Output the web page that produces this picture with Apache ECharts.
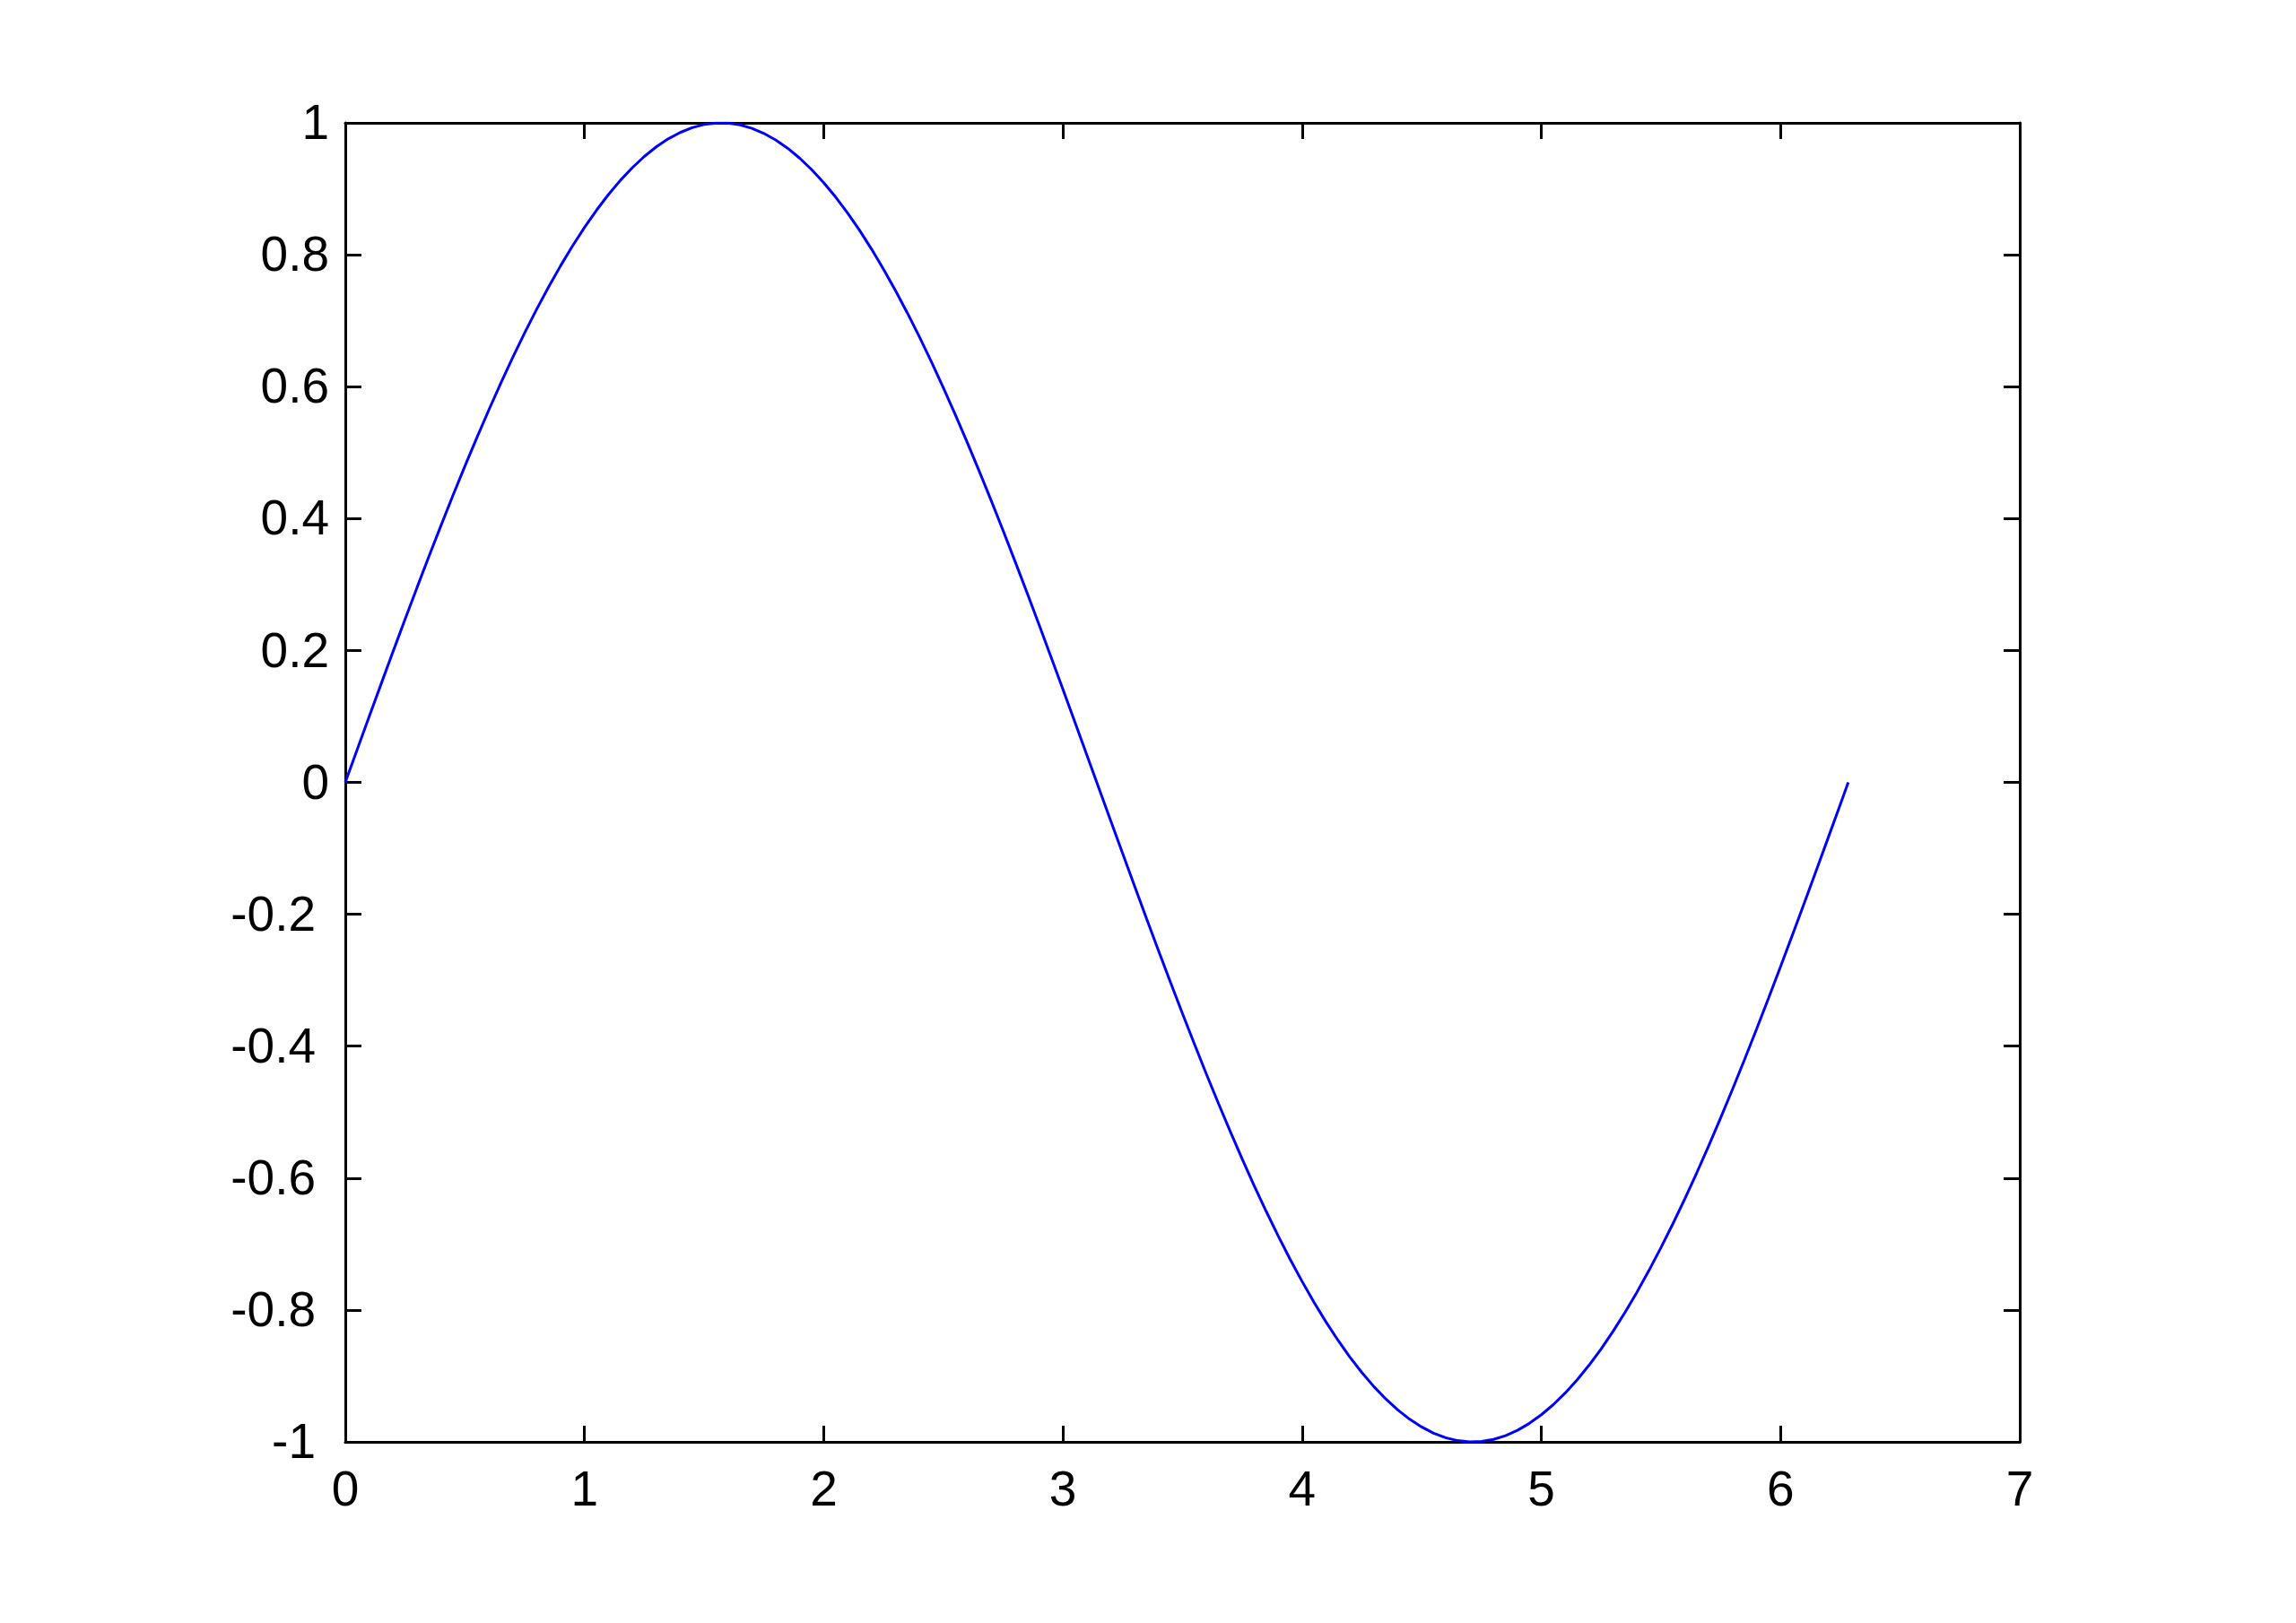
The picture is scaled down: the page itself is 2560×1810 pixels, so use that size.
<!DOCTYPE html>
<html>
<head>
<meta charset="utf-8">
<script src="https://cdn.jsdelivr.net/npm/echarts@6/dist/echarts.min.js"></script>
<style>
html,body{margin:0;padding:0;background:#fff;}
#chart{width:2560px;height:1810px;}
</style>
</head>
<body>
<div id="chart"></div>
<script>
const xValues = [0,0.05,0.1,0.15,0.2,0.25,0.3,0.35,0.4,0.45,0.5,0.55,0.6,0.65,0.7,0.75,0.8,0.85,0.9,0.95,1.0,1.05,1.1,1.15,1.2,1.25,1.3,1.35,1.4,1.45,1.5,1.55,1.6,1.65,1.7,1.75,1.8,1.85,1.9,1.95,2.0,2.05,2.1,2.15,2.2,2.25,2.3,2.35,2.4,2.45,2.5,2.55,2.6,2.65,2.7,2.75,2.8,2.85,2.9,2.95,3.0,3.05,3.1,3.15,3.2,3.25,3.3,3.35,3.4,3.45,3.5,3.55,3.6,3.65,3.7,3.75,3.8,3.85,3.9,3.95,4.0,4.05,4.1,4.15,4.2,4.25,4.3,4.35,4.4,4.45,4.5,4.55,4.6,4.65,4.7,4.75,4.8,4.85,4.9,4.95,5.0,5.05,5.1,5.15,5.2,5.25,5.3,5.35,5.4,5.45,5.5,5.55,5.6,5.65,5.7,5.75,5.8,5.85,5.9,5.95,6.0,6.05,6.1,6.15,6.2,6.25,6.283];
const yValues = [0,0.0500,0.0998,0.1494,0.1987,0.2474,0.2955,0.3429,0.3894,0.4350,0.4794,0.5227,0.5646,0.6052,0.6442,0.6816,0.7174,0.7513,0.7833,0.8134,0.8415,0.8674,0.8912,0.9128,0.9320,0.9490,0.9636,0.9757,0.9854,0.9927,0.9975,0.9998,0.9996,0.9969,0.9917,0.9840,0.9738,0.9613,0.9463,0.9290,0.9093,0.8874,0.8632,0.8370,0.8085,0.7781,0.7457,0.7115,0.6755,0.6378,0.5985,0.5577,0.5155,0.4720,0.4274,0.3817,0.3350,0.2875,0.2392,0.1904,0.1411,0.0915,0.0416,-0.0084,-0.0584,-0.1082,-0.1577,-0.2069,-0.2555,-0.3035,-0.3508,-0.3971,-0.4425,-0.4867,-0.5298,-0.5716,-0.6119,-0.6506,-0.6878,-0.7233,-0.7568,-0.7885,-0.8183,-0.8460,-0.8716,-0.8950,-0.9162,-0.9350,-0.9516,-0.9658,-0.9775,-0.9868,-0.9937,-0.9981,-0.9999,-0.9993,-0.9962,-0.9906,-0.9825,-0.9719,-0.9589,-0.9436,-0.9258,-0.9058,-0.8835,-0.8590,-0.8323,-0.8036,-0.7728,-0.7401,-0.7055,-0.6693,-0.6313,-0.5918,-0.5507,-0.5083,-0.4646,-0.4198,-0.3739,-0.3271,-0.2794,-0.2310,-0.1822,-0.1328,-0.0831,-0.0332,0];
const xTicks = [0,1,2,3,4,5,6,7];
const yTicks = [-1,-0.8,-0.6,-0.4,-0.2,0,0.2,0.4,0.6,0.8,1];

const chart = echarts.init(document.getElementById('chart'), null, {renderer:'canvas'});
const axisLine = {show:true, onZero:false, lineStyle:{color:'#000', width:3}};
const axisTick = {show:true, inside:true, length:18, lineStyle:{color:'#000', width:3}};
const font = 'Liberation Sans';
const seriesData = xValues.map((x,i)=>[x, yValues[i]]);

chart.setOption({
  backgroundColor:'#fff',
  animation:false,
  grid:{left:385, right:308, top:137, bottom:202, containLabel:false},
  xAxis:[
    {type:'value', min:xTicks[0], max:xTicks[xTicks.length-1], interval:1, position:'bottom',
     axisLine, axisTick, splitLine:{show:false},
     axisLabel:{show:true, color:'#000', fontSize:55, fontFamily:font, margin:28}},
    {type:'value', min:xTicks[0], max:xTicks[xTicks.length-1], interval:1, position:'top',
     axisLine, axisTick, splitLine:{show:false}, axisLabel:{show:false}}
  ],
  yAxis:[
    {type:'value', min:yTicks[0], max:yTicks[yTicks.length-1], interval:0.2, position:'left',
     axisLine, axisTick, splitLine:{show:false},
     axisLabel:{show:true, color:'#000', fontSize:55, fontFamily:font, margin:18,
       formatter:function(v){ const s = String(Math.round(v*10)/10); return v < 0 ? '{n|'+s+'}' : '{p|'+s+'}'; },
       rich:{n:{fontSize:55, fontFamily:font, color:'#000', padding:[6,15,0,0]}, p:{fontSize:55, fontFamily:font, color:'#000', padding:[6,0,0,0]}}}},
    {type:'value', min:yTicks[0], max:yTicks[yTicks.length-1], interval:0.2, position:'right',
     axisLine, axisTick, splitLine:{show:false}, axisLabel:{show:false}}
  ],
  series:[{
    type:'line', data:seriesData, xAxisIndex:0, yAxisIndex:0,
    showSymbol:false, symbol:'none', smooth:false,
    lineStyle:{color:'#0000ff', width:3}
  }]
});
</script>
</body>
</html>
